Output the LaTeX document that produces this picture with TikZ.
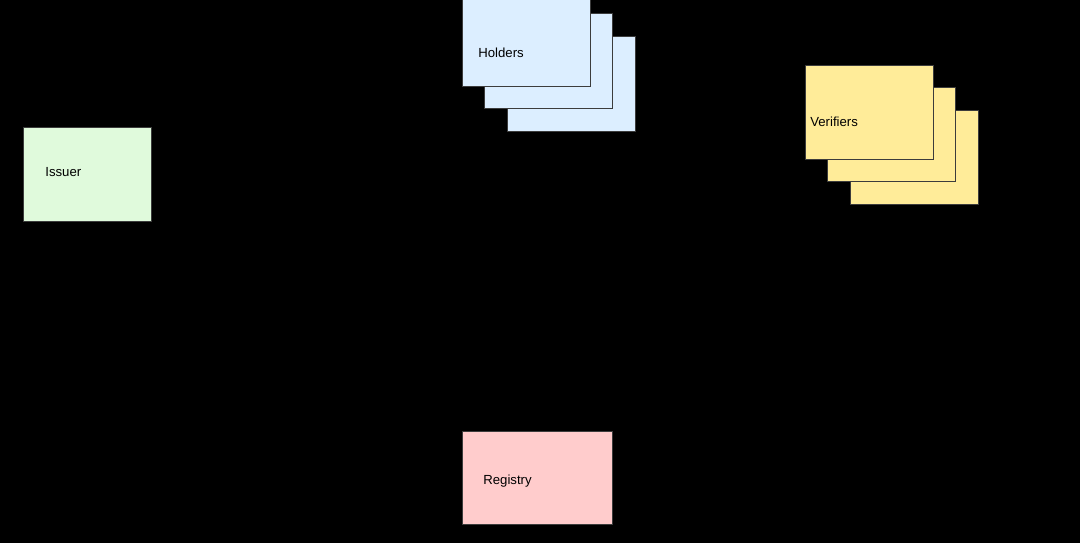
\documentclass[tikz,border=0pt]{standalone}
\usepackage{fontspec}
\setmainfont{Liberation Sans}
\usepackage{tikz}
\usepackage{xcolor}
\usetikzlibrary{positioning, calc, backgrounds}
\definecolor{cIssuer}{RGB}{224,250,220}
\definecolor{cHolder}{RGB}{220,238,255}
\definecolor{cVerifier}{RGB}{255,236,153}
\definecolor{cRegistry}{RGB}{255,204,204}
\definecolor{cEdge}{RGB}{60,60,60}
\tikzset{
	card/.style     ={rectangle, draw=cEdge, line width=0.4pt, minimum width=2.56cm, minimum height=1.88cm, inner sep=0pt},
	lbl/.style      ={anchor=west, inner sep=0pt, font=\fontsize{7.5}{9}\selectfont},
	% one style per kind of party
	issuerbox/.style={card, fill=cIssuer},
	holderbox/.style={card, fill=cHolder, minimum height=1.9cm},
	verifbox/.style ={card, fill=cVerifier},
	regbox/.style   ={card, fill=cRegistry, minimum width=3cm, minimum height=1.86cm},
}
\begin{document}
\begin{tikzpicture}[x=0.02cm, y=-0.02cm]
	\fill[black] (0,0) rectangle (1080,543);
	\useasboundingbox (0,0) rectangle (1080,543);
	\node[issuerbox] (issuer) at (87,174) {};
	\foreach \d in {2,1} {
		\node[holderbox] (holder\d) at (526+22.5*\d,38.5+22.5*\d) {};
		\node[verifbox] (verifier\d) at (869+22.5*\d,112+22.5*\d) {};
	}
	\node[holderbox] (holders) at (526,38.5) {};
	\node[verifbox] (verifiers) at (869,112) {};
	\node[regbox] (registry) at (537,477.5) {};
	\node[lbl] (issuerLbl) at (45,172) {Issuer};
	\node[lbl] (holdersLbl) at (478,53) {Holders};
	\node[lbl] (verifiersLbl) at (810,122) {Verifiers};
	\node[lbl] (registryLbl) at (483,481) {Registry};
\end{tikzpicture}
\end{document}
